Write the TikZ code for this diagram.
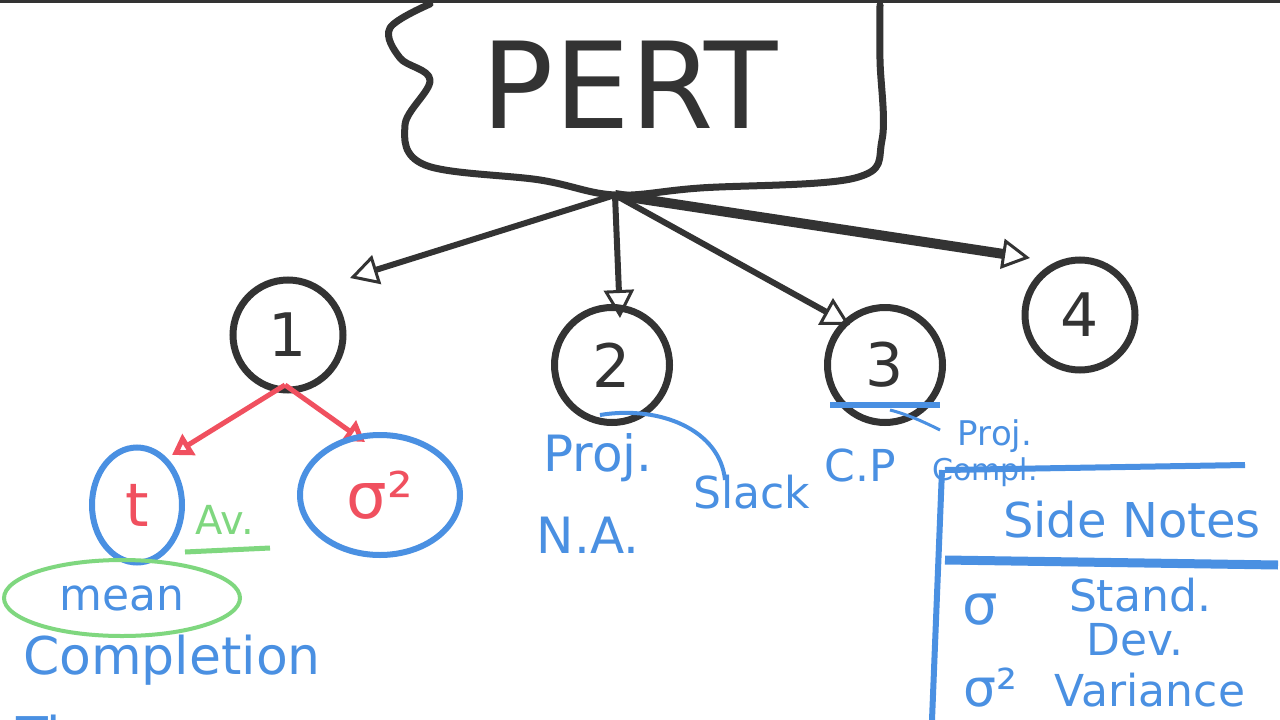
\documentclass[tikz,border=0pt]{standalone}
\usepackage{fontspec}
\setmainfont{DejaVu Sans}
\usetikzlibrary{arrows.meta,shapes.geometric}
\definecolor{bl}{HTML}{4A90E2}
\definecolor{rd}{HTML}{F0505F}
\definecolor{gr}{HTML}{7FD77F}
\definecolor{ink}{HTML}{333333}
\tikzset{blk/.style={draw=ink,line width=7pt,line cap=round,line join=round},
 circ/.style={circle,draw=ink,line width=7pt,minimum size=#1,inner sep=0pt,font=\fontsize{60}{60}\selectfont\color{ink}},
 arr/.style={draw=ink,line width=6pt,-{Triangle[open,length=28pt,width=30pt,line width=3pt]}},
 btxt/.style={text=bl,font=\fontsize{44}{44}\selectfont},
 bline/.style={draw=bl,line width=6pt}}
\begin{document}
\begin{tikzpicture}[x=1pt,y=-1pt]
\useasboundingbox (0,0) rectangle (1280,720);
\fill[white] (0,0) rectangle (1280,720);
\draw[draw=ink,line width=4pt] (0,1) -- (1280,1);
% PERT box
\draw[blk] plot[smooth,tension=0.6] coordinates {(430,4) (390,28) (400,58) (430,80) (405,125) (425,165) (540,180) (615,195) (700,188) (855,178) (882,140) (880,60) (880,5)};
\node[font=\fontsize{120}{120}\selectfont,text=ink] (pert) at (630,85) {PERT};
\coordinate (hub) at (615,195);
\node[circ=110pt] (n1) at (288,335) {1};
\node[circ=115pt] (n2) at (612,365) {2};
\node[circ=115pt] (n3) at (885,365) {3};
\node[circ=110pt] (n4) at (1080,315) {4};
\draw[arr] (hub) -- (350,278);
\draw[arr] (hub) -- (620,318);
\draw[arr] (hub) -- (850,325);
\draw[arr,line width=10pt] (hub) -- (1030,258);
% left branch
\coordinate (r0) at (285,385);
\draw[draw=rd,line width=5pt,-{Triangle[open,length=20pt,width=24pt]}] (r0) -- (172,455);
\draw[draw=rd,line width=5pt,-{Triangle[open,length=20pt,width=24pt]}] (r0) -- (365,442);
\node[ellipse,draw=bl,line width=6pt,minimum width=90pt,minimum height=115pt,text=rd,font=\fontsize{60}{60}\selectfont] (t) at (137,505) {t};
\node[ellipse,draw=bl,line width=6pt,minimum width=160pt,minimum height=120pt,text=rd,font=\fontsize{64}{64}\selectfont] (s2) at (380,495) {σ²};
\node[text=gr,font=\fontsize{40}{40}\selectfont] (av) at (225,520) {Av.};
\draw[draw=gr,line width=5pt] (185,552) -- (270,548);
\node[btxt] (mean) at (122,598) {mean};
\draw[draw=gr,line width=4pt] (mean.center) ellipse (118pt and 38pt);
\node[btxt,font=\fontsize{52}{52}\selectfont] (comp) at (172,660) {Completion};
\node[btxt,font=\fontsize{52}{52}\selectfont] at (80,735) {Time};
% middle notes
\node[btxt,font=\fontsize{50}{50}\selectfont] (proj) at (598,458) {Proj.};
\node[btxt,font=\fontsize{50}{50}\selectfont] (na) at (588,535) {N.A.};
\node[btxt,font=\fontsize{44}{44}\selectfont] (slack) at (752,492) {Slack};
\draw[bline,line width=4pt] (600,415) .. controls (660,405) and (720,430) .. (725,480);
\node[btxt] (cp) at (860,465) {C.P};
\draw[bline] (830,405) -- (940,405);
\draw[bline,line width=3pt] (890,410) .. controls (910,415) and (930,425) .. (940,430);
\node[btxt,font=\fontsize{34}{34}\selectfont] (pc) at (995,436) {Proj.};
\node[btxt,font=\fontsize{30}{30}\selectfont] at (985,472) {Compl.};
% side notes
\draw[bline] (945,470) -- (1245,465);
\draw[bline] (942,470) -- (932,720);
\node[btxt,font=\fontsize{48}{48}\selectfont] (sn) at (1132,520) {Side Notes};
\draw[bline,line width=9pt] (945,560) -- (1278,565);
\node[btxt,font=\fontsize{56}{56}\selectfont] (sig) at (980,610) {σ};
\node[btxt] (sd) at (1140,595) {Stand.};
\node[btxt] (dev) at (1135,640) {Dev.};
\node[btxt,font=\fontsize{52}{52}\selectfont] (sig2) at (990,688) {σ²};
\node[btxt] (var) at (1150,690) {Variance};
\end{tikzpicture}
\end{document}
